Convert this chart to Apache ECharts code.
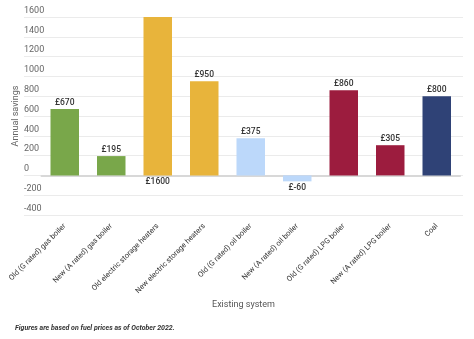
<!DOCTYPE html>
<html><head><meta charset="utf-8">
<script src="https://cdn.jsdelivr.net/npm/echarts@6/dist/echarts.min.js"></script>
<style>html,body{margin:0;padding:0;background:#fff}#c{width:474px;height:339px}</style>
</head><body><div id="c"></div>
<script>
const categories = ["Old (G rated) gas boiler","New (A rated) gas boiler","Old electric storage heaters","New electric storage heaters","Old (G rated) oil boiler","New (A rated) oil boiler","Old (G rated) LPG boiler","New (A rated) LPG boiler","Coal"];
const savings = [670,195,1600,950,375,-60,860,305,800];
const barColors = ["#79a74a","#79a74a","#e8b43b","#e8b43b","#bcd8fa","#bcd8fa","#9c1c3e","#9c1c3e","#2f4276"];
const labelBelow = [false,false,true,false,false,true,false,false,false];
const yTicks = {min:-400,max:1600,interval:200};

const chart = echarts.init(document.getElementById('c'));
const F = 'Roboto, "Noto Sans", sans-serif';
chart.setOption({
  animation:false,
  title:{text:'Figures are based on fuel prices as of October 2022.',left:10,top:320,
    textStyle:{fontSize:7,fontStyle:'italic',fontWeight:'bold',color:'#333',fontFamily:F}},
  grid:[
    {left:24,right:11,top:17,bottom:124},
    {left:41.5,right:14,top:17,bottom:124}
  ],
  xAxis:[
    {type:'value',gridIndex:0,min:0,max:1,show:true,axisLine:{show:false},axisTick:{show:false},
     axisLabel:{show:false},splitLine:{show:false},
     name:'Existing system',nameLocation:'middle',nameGap:85,
     nameTextStyle:{fontSize:9,color:'#555',fontFamily:F}},
    {type:'category',gridIndex:1,data:categories,offset:5,
     axisLine:{lineStyle:{color:'#d8d8d8',width:2}},axisTick:{show:false},
     axisLabel:{rotate:45,fontSize:7.5,color:'#333',margin:5,interval:0,fontFamily:F}}
  ],
  yAxis:[
    {type:'value',gridIndex:0,min:yTicks.min,max:yTicks.max,interval:yTicks.interval,
     axisLine:{show:false},axisTick:{show:false},
     splitLine:{lineStyle:{color:'#ebebeb',width:1}},
     axisLabel:{inside:true,margin:0,align:'left',verticalAlign:'bottom',padding:[0,0,2,0],fontSize:9,color:'#666',fontFamily:F,
       formatter:v=>String(v)},
     name:'Annual savings',nameLocation:'middle',nameGap:4,nameRotate:90,nameMoveOverlap:false,
     nameTextStyle:{fontSize:9,color:'#666',fontFamily:F}},
    {type:'value',gridIndex:1,min:yTicks.min,max:yTicks.max,interval:yTicks.interval,show:false,splitLine:{show:false}}
  ],
  series:[{
    type:'bar',xAxisIndex:1,yAxisIndex:1,barWidth:28.5,
    data:savings.map((v,i)=>({value:v,itemStyle:{color:barColors[i]},
      label:{position:labelBelow[i]?'bottom':'top'}})),
    label:{show:true,formatter:p=>'£'+p.value,fontSize:8.5,color:'#333',distance:2,fontFamily:F,fontWeight:500}
  }]
});
</script></body></html>
